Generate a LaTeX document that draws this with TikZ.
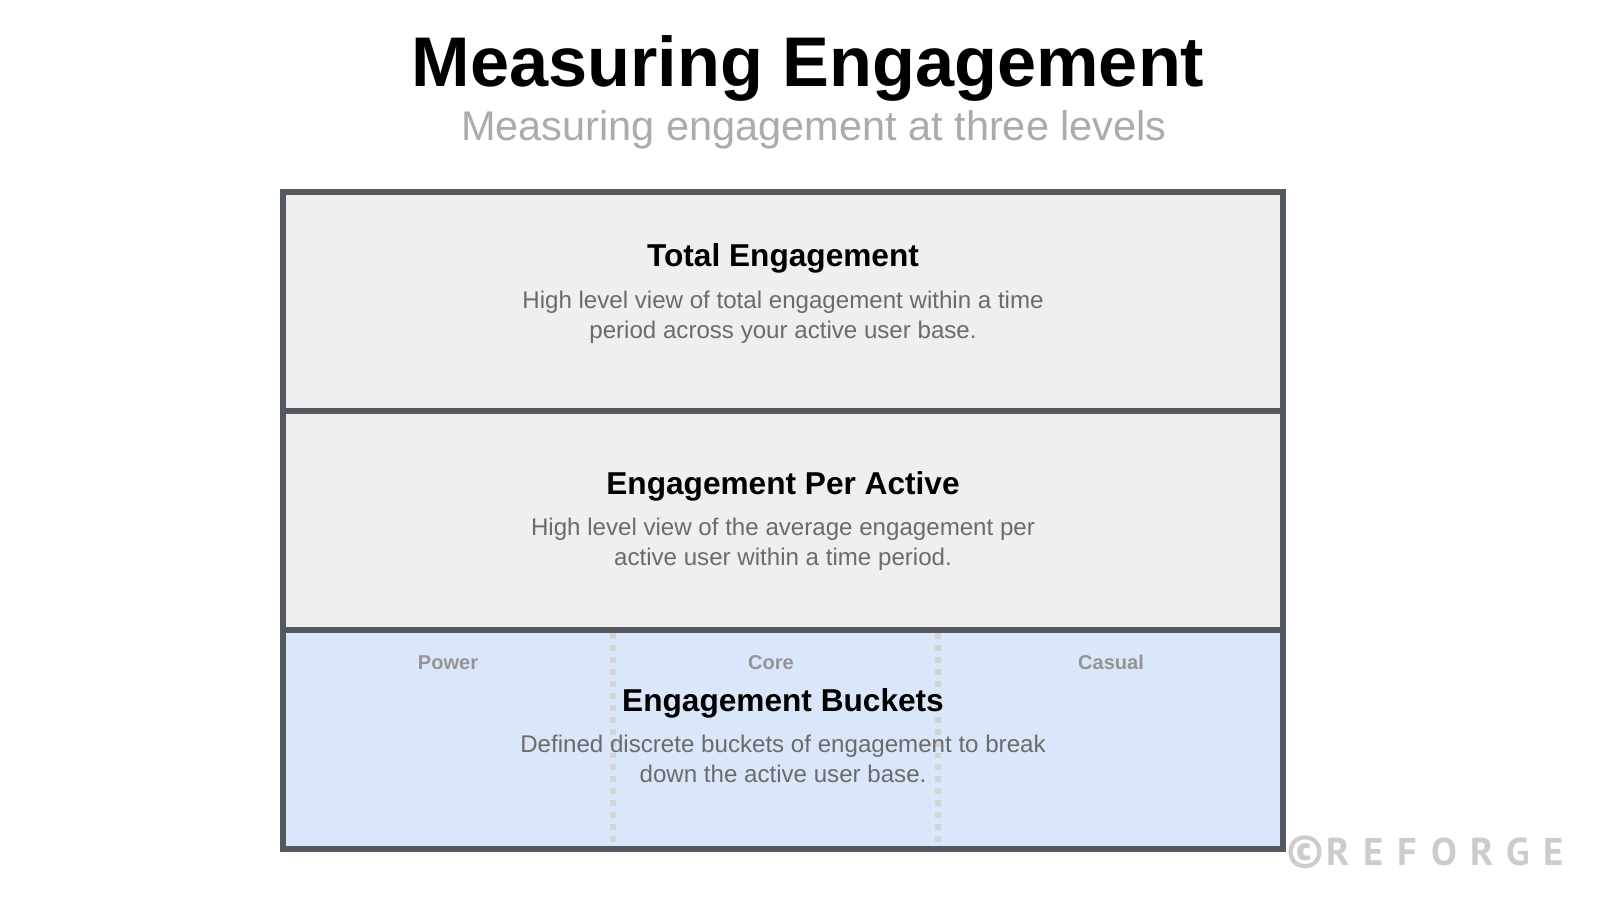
\documentclass[tikz,border=0pt]{standalone}
\usepackage{fontspec}
\setmainfont{Liberation Sans}
\newfontfamily\markfont{PT Sans}
\definecolor{framegray}{HTML}{54595F}
\definecolor{panelgray}{HTML}{EFEFEF}
\definecolor{panelblue}{HTML}{DAE6FA}
\tikzset{
  panel/.style={draw=framegray,line width=1.7pt},
  bucketline/.style={draw=black!17,line width=1.7pt,dash pattern=on 1.7pt off 1.7pt},
  heading/.style={font=\bfseries\fontsize{9}{11}\selectfont,text=black},
  blurb/.style={font=\fontsize{6.86}{8.5}\selectfont,text=black!58,align=center},
  bucketname/.style={font=\bfseries\fontsize{5.7}{7}\selectfont,text=black!42,anchor=base}
}
\begin{document}
\begin{tikzpicture}
            \useasboundingbox (0,0) rectangle (16,9);
            \fill[white] (0,0) rectangle (16,9);
            \node[font=\bfseries\fontsize{20}{24}\selectfont] (title) at (8.08,8.32) {Measuring Engagement};
            \node[font=\fontsize{11.8}{14}\selectfont,text=black!33] (subtitle) at (8.14,7.70) {Measuring engagement at three levels};
            \draw[panel,fill=panelgray] (2.83,7.08) rectangle (12.83,4.89);
            \draw[panel,fill=panelgray] (2.83,4.89) rectangle (12.83,2.70);
            \draw[panel,fill=panelblue] (2.83,2.70) rectangle (12.83,0.51);
            \draw[bucketline] (6.13,2.67)--(6.13,0.51);
            \draw[bucketline] (9.38,2.67)--(9.38,0.51);
            \draw[panel] (2.83,7.08) rectangle (12.83,0.51);
            \node[heading] (total) at (7.83,6.42) {Total Engagement};
            \node[blurb] (totaltext) at (7.83,5.83) {High level view of total engagement within a time\\period across your active user base.};
            \node[heading] (peractive) at (7.83,4.14) {Engagement Per Active};
            \node[blurb] (peractivetext) at (7.83,3.56) {High level view of the average engagement per\\active user within a time period.};
            \node[heading] (buckets) at (7.83,1.97) {Engagement Buckets};
            \node[blurb] (bucketstext) at (7.83,1.41) {Defined discrete buckets of engagement to break\\down the active user base.};
            \node[bucketname] (power) at (4.48,2.31) {Power};
            \node[bucketname] (core) at (7.71,2.31) {Core};
            \node[bucketname] (casual) at (11.11,2.31) {Casual};
            \node[font=\markfont\bfseries\fontsize{11}{13}\selectfont\addfontfeature{LetterSpace=35.5},text=black!20,anchor=west,inner sep=0pt] (reforge) at (12.86,0.48) {{\fontsize{13}{13}\selectfont\addfontfeature{LetterSpace=0}©}\hspace{0.6pt}REFORGE};
        \end{tikzpicture}
\end{document}
